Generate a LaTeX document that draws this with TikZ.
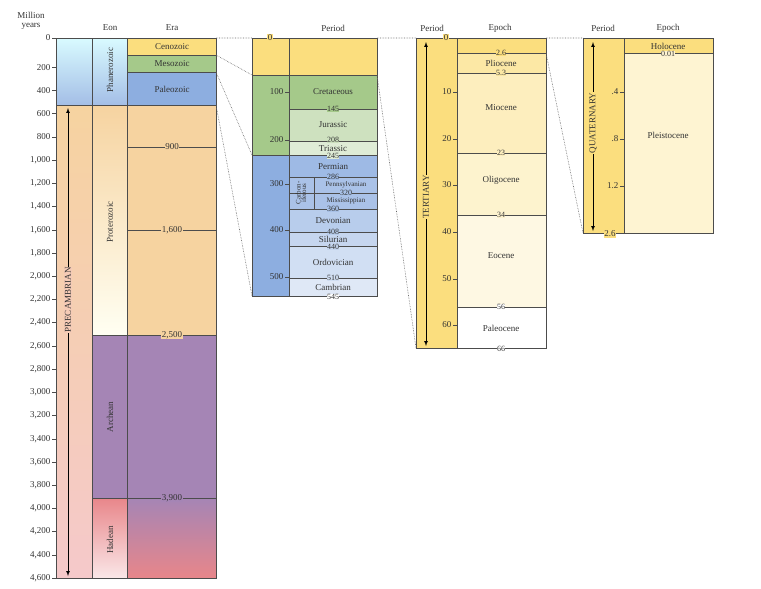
\documentclass[tikz,border=0pt]{standalone}
\usepackage{fontspec}
\setmainfont{Liberation Serif}
\begin{document}
\begin{tikzpicture}[x=1pt,y=-1pt,
  lab/.style={font=\fontsize{9}{9.5}\selectfont,text=black!80,inner sep=0.5pt},
  num/.style={font=\fontsize{8}{8}\selectfont,text=black!80,inner sep=0.3pt},
  sm/.style={font=\fontsize{7}{7.5}\selectfont,text=black!80,inner sep=0.3pt},
  box/.style={draw=black!70,line width=0.5pt},
  bl/.style={draw=black!70,line width=0.5pt},
  dots/.style={densely dotted,black!60,line width=0.6pt},
  dbl/.style={<->,>=latex,line width=0.7pt}]
\useasboundingbox (0,0) rectangle (761,589);
\definecolor{ceno}{HTML}{FBDE7E}\definecolor{meso}{HTML}{A5C98A}\definecolor{paleo}{HTML}{8DAEE0}
\definecolor{prot}{HTML}{F6D3A0}\definecolor{arch}{HTML}{A585B5}\definecolor{had}{HTML}{E8868A}
% headers
\node[lab,align=center] at (31,21) {Million\\[-1pt]years};
\node[lab] at (110,28) {Eon}; \node[lab] at (172,28) {Era};
\node[lab] at (333,28) {Period};
\node[lab] at (432,28) {Period}; \node[lab] at (500,28) {Epoch};
\node[lab] at (603,28) {Period}; \node[lab] at (668,28) {Epoch};
% ===== main column
\fill[top color=blue!12!cyan!15,bottom color=paleo!80] (56,38) rectangle (127,105);
\fill[top color=prot,bottom color=had!45] (56,105) rectangle (92,578);
\fill[top color=prot,bottom color=yellow!5] (92,105) rectangle (127,335);
\fill[arch] (92,335) rectangle (127,498);
\fill[top color=had,bottom color=had!20] (92,498) rectangle (127,578);
\fill[ceno] (127,38) rectangle (216,55);
\fill[meso] (127,55) rectangle (216,72);
\fill[paleo] (127,72) rectangle (216,105);
\fill[prot] (127,105) rectangle (216,335);
\fill[arch] (127,335) rectangle (216,498);
\fill[top color=arch,bottom color=had] (127,498) rectangle (216,578);
\draw[box] (56,38) rectangle (216,578);
\draw[bl] (92,38)--(92,578) (127,38)--(127,578);
\draw[bl] (56,105)--(216,105) (92,335)--(216,335) (92,498)--(216,498);
\draw[bl] (127,55)--(216,55) (127,72)--(216,72) (127,147)--(216,147) (127,230)--(216,230);
\node[lab] at (172,47) {Cenozoic}; \node[lab] at (172,64) {Mesozoic}; \node[lab] at (172,89) {Paleozoic};
\node[lab,fill=prot] at (172,147) {900}; \node[lab,fill=prot] at (172,230) {1,600};
\node[lab,fill=prot] at (172,335) {2,500}; \node[lab,fill=arch] at (172,498) {3,900};
\node[lab,rotate=90] at (110,70) {Phanerozoic};
\node[lab,rotate=90] at (110,222) {Proterozoic};
\node[lab,rotate=90] at (110,417) {Archean};
\node[lab,rotate=90] at (110,540) {Hadean};
\draw[dbl] (68,108)--(68,576);
\node[lab,rotate=90,fill=prot!60!had!70!white] at (68,300) {PRECAMBRIAN};
\draw[bl] (52,38)--(56,38);
\node[lab,anchor=east] at (51,38) {0};
\foreach \t/\s in {200/200,400/400,600/600,800/800,1000/{1,000},1200/{1,200},1400/{1,400},1600/{1,600},1800/{1,800},2000/{2,000},2200/{2,200},2400/{2,400},2600/{2,600},2800/{2,800},3000/{3,000},3200/{3,200},3400/{3,400},3600/{3,600},3800/{3,800},4000/{4,000},4200/{4,200},4400/{4,400},4600/{4,600}}{
  \pgfmathsetmacro\yy{44+0.1161*\t}
  \draw[bl] (52,\yy)--(56,\yy);
  \node[lab,anchor=east] at (51,\yy) {\s};}
% ===== period panel
\fill[ceno] (252,38) rectangle (377,75);
\fill[meso] (252,75) rectangle (289,155);
\fill[paleo] (252,155) rectangle (289,296);
\fill[meso] (289,75) rectangle (377,109);
\fill[meso!55] (289,109) rectangle (377,141);
\fill[meso!35] (289,141) rectangle (377,155);
\fill[paleo!85] (289,155) rectangle (377,177);
\fill[paleo!75] (289,177) rectangle (377,209);
\fill[paleo!62] (289,209) rectangle (377,232);
\fill[paleo!50] (289,232) rectangle (377,246);
\fill[paleo!40] (289,246) rectangle (377,278);
\fill[paleo!28] (289,278) rectangle (377,296);
\draw[box] (252,38) rectangle (377,296);
\draw[bl] (289,38)--(289,296) (252,75)--(377,75) (252,155)--(377,155) (314,177)--(314,209);
\foreach \y in {109,141,177,193,209,232,246,278}{\draw[bl] (289,\y)--(377,\y);}
\node[lab] at (333,92) {Cretaceous}; \node[lab] at (333,125) {Jurassic};
\node[lab] at (333,148.5) {Triassic}; \node[lab] at (333,167) {Permian};
\node[sm] at (346,185) {Pennsylvanian}; \node[sm] at (346,201) {Mississippian};
\node[sm,rotate=90,align=center] at (301,193) {Carbon-\\[-2pt]iferous};
\node[lab] at (333,221) {Devonian}; \node[lab] at (333,239) {Silurian};
\node[lab] at (333,262) {Ordovician}; \node[lab] at (333,287) {Cambrian};
\node[num,fill=meso] at (333,109) {145}; \node[num,fill=meso!55] at (333,140) {208};
\node[num,fill=meso!35] at (333,156) {245}; \node[num,fill=paleo!85] at (333,177) {286};
\node[num,fill=paleo!75] at (346,193) {320}; \node[num,fill=paleo!75] at (333,209) {360};
\node[num,fill=paleo!62] at (333,232) {408}; \node[num,fill=paleo!50] at (333,246.5) {440};
\node[num,fill=paleo!40] at (333,278) {510}; \node[num,fill=white] at (333,297) {545};
\node[lab,fill=ceno] at (270,38) {0};
\foreach \y/\s in {92/100,140/200,184/300,230/400,277/500}{
  \draw[bl] (285,\y)--(289,\y); \node[lab,anchor=east] at (284,\y) {\s};}
% ===== tertiary panel
\fill[ceno] (416,38) rectangle (457,348);
\fill[ceno] (457,38) rectangle (546,53);
\fill[ceno!70] (457,53) rectangle (546,73);
\fill[ceno!50] (457,73) rectangle (546,153);
\fill[ceno!38] (457,153) rectangle (546,215);
\fill[ceno!22] (457,215) rectangle (546,307);
\draw[box] (416,38) rectangle (546,348);
\draw[bl] (457,38)--(457,348);
\foreach \y in {53,73,153,215,307}{\draw[bl] (457,\y)--(546,\y);}
\node[lab] at (501,63) {Pliocene}; \node[lab] at (501,108) {Miocene};
\node[lab] at (501,180) {Oligocene}; \node[lab] at (501,256) {Eocene};
\node[lab] at (501,328) {Paleocene};
\node[num,fill=ceno] at (501,53) {2.6}; \node[num,fill=ceno!70] at (501,73) {5.3};
\node[num,fill=ceno!50] at (501,153) {23}; \node[num,fill=ceno!38] at (501,215) {34};
\node[num,fill=white] at (501,307) {56}; \node[num,fill=white] at (501,349) {66};
\node[lab,fill=ceno] at (446,38) {0};
\foreach \y/\s in {92/10,139/20,185/30,232/40,279/50,325/60}{
  \draw[bl] (453,\y)--(457,\y); \node[lab,anchor=east] at (452,\y) {\s};}
\draw[dbl] (426,42)--(426,346);
\node[lab,rotate=90,fill=ceno] at (426,197) {TERTIARY};
% ===== quaternary panel
\fill[ceno] (583,38) rectangle (624,233);
\fill[ceno] (624,38) rectangle (713,53);
\fill[ceno!35] (624,53) rectangle (713,233);
\draw[box] (583,38) rectangle (713,233);
\draw[bl] (624,38)--(624,233) (624,53)--(713,53);
\node[lab] at (668,46) {Holocene}; \node[lab] at (668,135) {Pleistocene};
\node[num,fill=ceno!35] at (668,54) {0.01};
\foreach \y/\s in {92/.4,139/.8,186/1.2}{
  \draw[bl] (620,\y)--(624,\y); \node[lab,anchor=east] at (619,\y) {\s};}
\node[lab,fill=ceno] at (610,234) {2.6};
\draw[dbl] (593,42)--(593,231);
\node[lab,rotate=90,fill=ceno] at (593,123) {QUATERNARY};
% ===== connectors
\coordinate (e0) at (216,38); \coordinate (e1) at (216,55); \coordinate (e2) at (216,72); \coordinate (e3) at (216,105);
\coordinate (p0) at (252,38); \coordinate (p1) at (252,75); \coordinate (p2) at (252,155); \coordinate (p3) at (252,296);
\coordinate (pr0) at (377,38); \coordinate (pr1) at (377,75);
\coordinate (t0) at (416,38); \coordinate (t1) at (416,348); \coordinate (tr0) at (546,38); \coordinate (tr1) at (546,53);
\coordinate (q0) at (583,38); \coordinate (q1) at (583,233);
\draw[dots] (e0)--(p0) (e1)--(p1) (e2)--(p2) (e3)--(p3);
\draw[dots] (pr0)--(t0) (pr1)--(t1) (tr0)--(q0) (tr1)--(q1);
\end{tikzpicture}
\end{document}
